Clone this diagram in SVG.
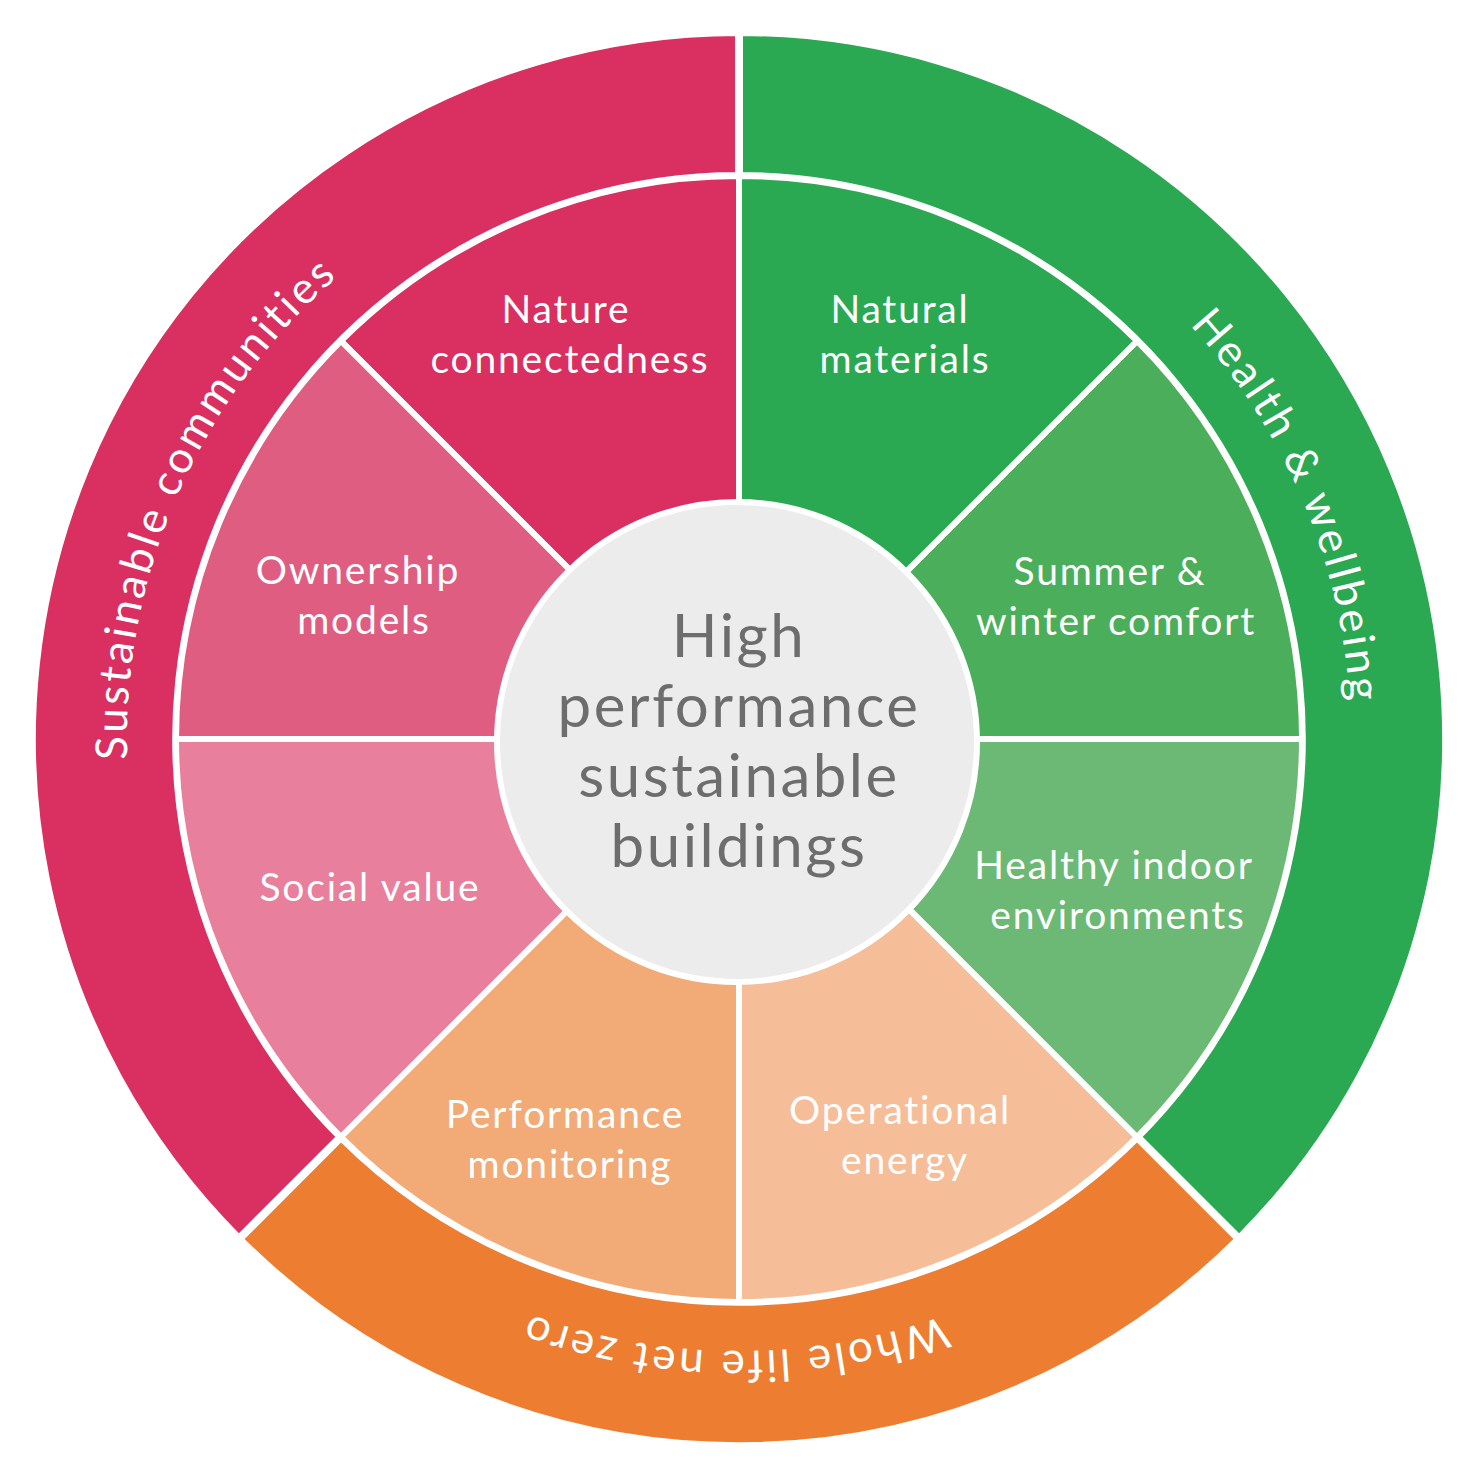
<svg xmlns="http://www.w3.org/2000/svg" xmlns:xlink="http://www.w3.org/1999/xlink" width="1477" height="1477" viewBox="0 0 1477 1477">
<style>
.ring{stroke:#fff;stroke-width:8}
.w{stroke:#fff;stroke-width:6}
.lbl{font-family:Lato,"Open Sans",sans-serif;font-size:39px;letter-spacing:1.8px;fill:#fff;text-anchor:middle}
.arc{font-family:Lato,"Open Sans",sans-serif;font-size:44px;letter-spacing:3px;fill:#fff;text-anchor:middle}
.ctr{font-family:Lato,"Open Sans",sans-serif;font-size:60px;letter-spacing:2.5px;fill:#6d6d6d;text-anchor:middle}
</style>
<defs>
<path id="circ" d="M 1351 739 A 612 612 0 1 1 127 739 A 612 612 0 1 1 1351 739"/>
</defs>
<rect width="1477" height="1477" fill="#fff"/>
<g id="outer-ring">
<path class="ring" fill="#D92F61" d="M739 32 A707 707 0 0 0 239 1239 L341 1137 A563 563 0 0 1 739 176 Z"/>
<path class="ring" fill="#2BA852" d="M739 32 A707 707 0 0 1 1239 1239 L1137 1137 A563 563 0 0 0 739 176 Z"/>
<path class="ring" fill="#EC7D31" d="M1239 1239 A707 707 0 0 1 239 1239 L341 1137 A563 563 0 0 0 1137 1137 Z"/>
<text class="arc"><textPath xlink:href="#circ" href="#circ" startOffset="2175">Sustainable communities</textPath></text>
<text class="arc"><textPath xlink:href="#circ" href="#circ" startOffset="3600">Health &amp; wellbeing</textPath></text>
<text class="arc"><textPath xlink:href="#circ" href="#circ" startOffset="965">Whole life net zero</textPath></text>
</g>
<g id="nature"><path class="w" fill="#D92F61" d="M739 739 L341 341 A563 563 0 0 1 739 176 Z"/><text class="lbl" x="566" y="323">Nature</text><text class="lbl" x="570" y="373">connectedness</text></g>
<g id="ownership"><path class="w" fill="#E05D82" d="M739 739 L176 739 A563 563 0 0 1 341 341 Z"/><text class="lbl" x="358" y="584">Ownership</text><text class="lbl" x="364" y="634">models</text></g>
<g id="social"><path class="w" fill="#E87F9C" d="M739 739 L341 1137 A563 563 0 0 1 176 739 Z"/><text class="lbl" x="370" y="901">Social value</text></g>
<g id="performance"><path class="w" fill="#F2AA77" d="M739 739 L739 1302 A563 563 0 0 1 341 1137 Z"/><text class="lbl" x="565" y="1128">Performance</text><text class="lbl" x="570" y="1178">monitoring</text></g>
<g id="operational"><path class="w" fill="#F5BE99" d="M739 739 L1137 1137 A563 563 0 0 1 739 1302 Z"/><text class="lbl" x="900" y="1124">Operational</text><text class="lbl" x="905" y="1174">energy</text></g>
<g id="healthy"><path class="w" fill="#6CB975" d="M739 739 L1302 739 A563 563 0 0 1 1137 1137 Z"/><text class="lbl" x="1114" y="879">Healthy indoor</text><text class="lbl" x="1118" y="929">environments</text></g>
<g id="summer"><path class="w" fill="#4BAE5B" d="M739 739 L1137 341 A563 563 0 0 1 1302 739 Z"/><text class="lbl" x="1110" y="585">Summer &amp;</text><text class="lbl" x="1116" y="635">winter comfort</text></g>
<g id="natural"><path class="w" fill="#2BA852" d="M739 739 L739 176 A563 563 0 0 1 1137 341 Z"/><text class="lbl" x="900" y="323">Natural</text><text class="lbl" x="905" y="373">materials</text></g>
<g id="center"><circle cx="737" cy="742" r="240" fill="#ECECEC" stroke="#fff" stroke-width="6"/>
<text class="ctr" x="739" y="657">High</text><text class="ctr" x="739" y="727">performance</text><text class="ctr" x="739" y="797">sustainable</text><text class="ctr" x="739" y="867">buildings</text></g>
</svg>
